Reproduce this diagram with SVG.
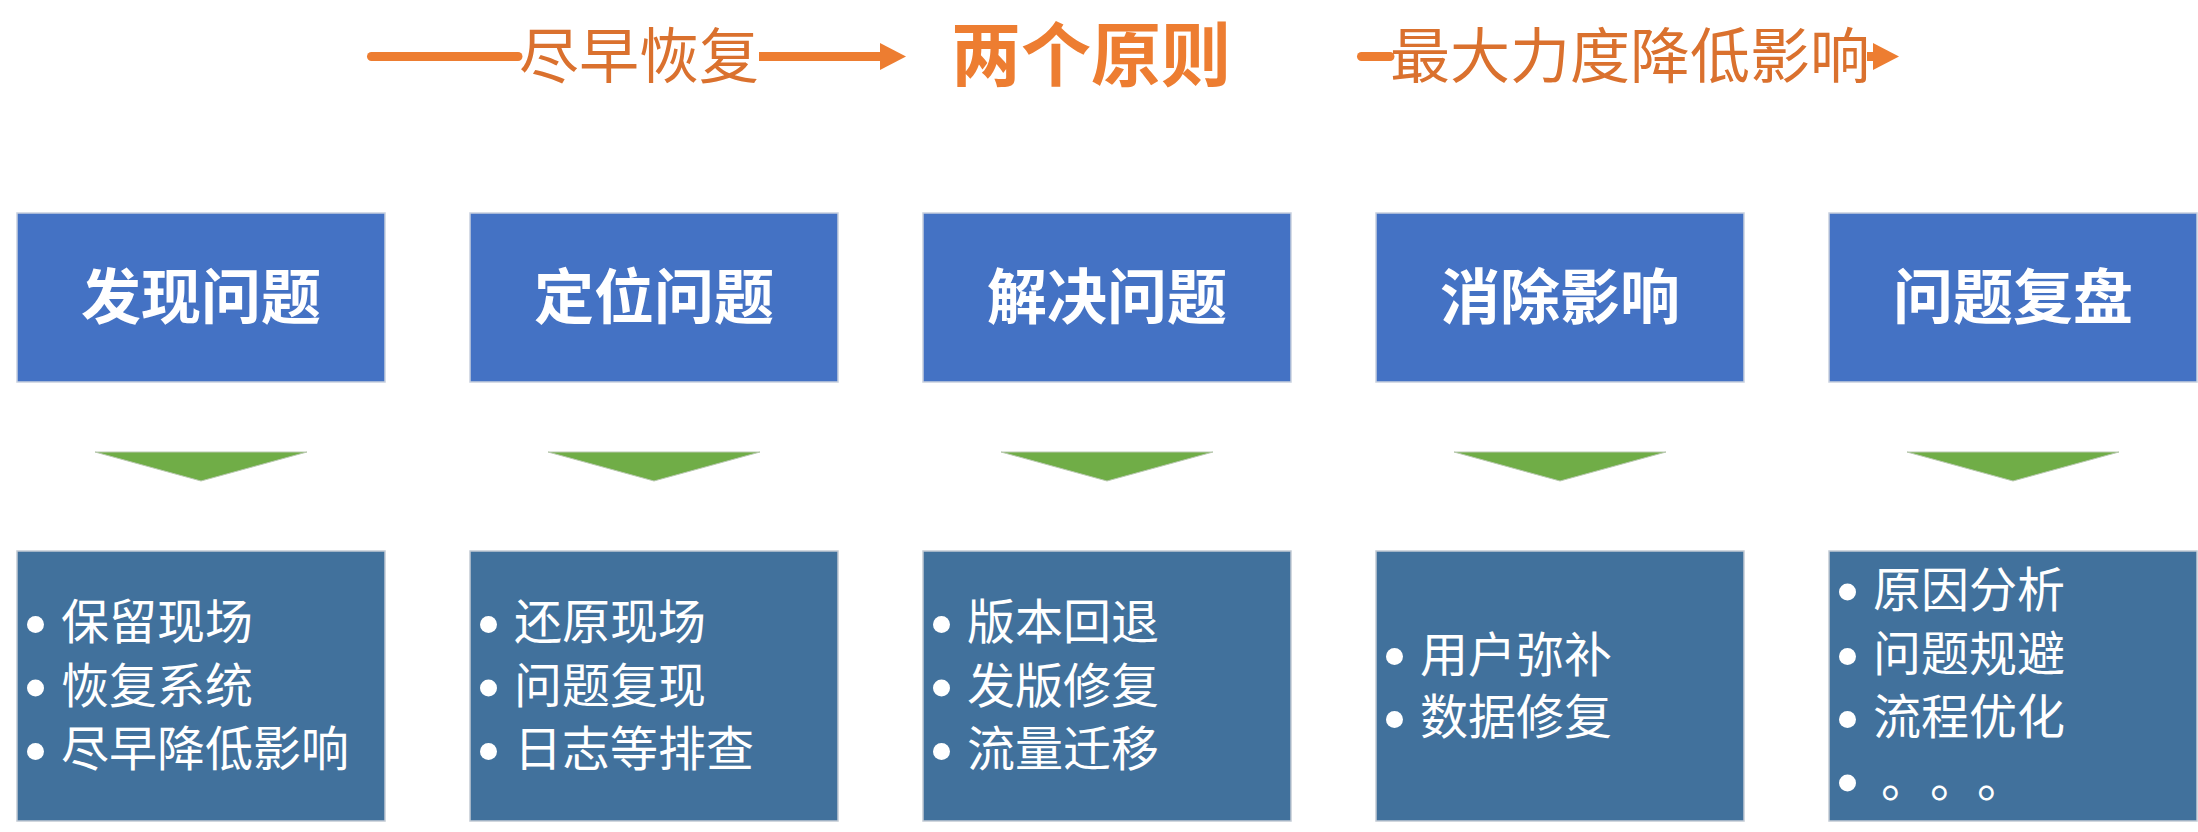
<svg xmlns="http://www.w3.org/2000/svg" width="2198" height="832" viewBox="0 0 2198 832">
<style>
.cjk{font-family:"Noto Sans CJK SC","Noto Sans CJK JP",sans-serif;}
.title{font-size:60px;font-weight:700;fill:#FFFFFF;text-anchor:middle;}
.item{font-size:48px;fill:#FFFFFF;}
.head{font-size:60px;fill:#DA712E;text-anchor:middle;}
.main{font-size:70px;font-weight:700;fill:#ED7D31;text-anchor:middle;}
.topbox{fill:#4472C4;stroke:#C7D0DE;stroke-width:1.5;}
.botbox{fill:#41719C;stroke:#C2CAD4;stroke-width:1.5;}
.tri{fill:#70AD47;stroke:#B9C9B0;stroke-width:1;}
.bul{fill:#FFFFFF;}
.hline{stroke:#ED7D31;stroke-width:9;fill:none;}
</style>
<defs>
<marker id="ah" markerUnits="userSpaceOnUse" markerWidth="27" markerHeight="28" refX="0" refY="13.5" orient="auto">
<path d="M0,0 L26,13.5 L0,27 Z" fill="#ED7D31"/>
</marker>
</defs>
<rect width="2198" height="832" fill="#FFFFFF"/>

<g id="header">
<text class="cjk head" x="639" y="78">尽早恢复</text>
<text class="cjk main" x="1091" y="81">两个原则</text>
<text class="cjk head" x="1630" y="78">最大力度降低影响</text>
</g>

<g id="connectors">
<line class="hline" x1="371.5" y1="56.5" x2="518" y2="56.5" stroke-linecap="round"/>
<line class="hline" x1="759" y1="56.5" x2="880" y2="56.5" marker-end="url(#ah)"/>
<line class="hline" x1="1361.5" y1="56.5" x2="1390" y2="56.5" stroke-linecap="round"/>
<line class="hline" x1="1867" y1="56.5" x2="1873" y2="56.5" marker-end="url(#ah)"/>
<polygon class="tri" points="95,452 307,452 201,481"/>
<polygon class="tri" points="548,452 760,452 654,481"/>
<polygon class="tri" points="1001,452 1213,452 1107,481"/>
<polygon class="tri" points="1454,452 1666,452 1560,481"/>
<polygon class="tri" points="1907,452 2119,452 2013,481"/>
</g>

<g id="node-find">
<rect class="topbox" x="17" y="213" width="368" height="169"/>
<text class="cjk title" x="201" y="319">发现问题</text>
</g>
<g id="node-locate">
<rect class="topbox" x="470" y="213" width="368" height="169"/>
<text class="cjk title" x="654" y="319">定位问题</text>
</g>
<g id="node-solve">
<rect class="topbox" x="923" y="213" width="368" height="169"/>
<text class="cjk title" x="1107" y="319">解决问题</text>
</g>
<g id="node-eliminate">
<rect class="topbox" x="1376" y="213" width="368" height="169"/>
<text class="cjk title" x="1560" y="319">消除影响</text>
</g>
<g id="node-review">
<rect class="topbox" x="1829" y="213" width="368" height="169"/>
<text class="cjk title" x="2013" y="319">问题复盘</text>
</g>

<g id="detail-find">
<rect class="botbox" x="17" y="551" width="368" height="270"/>
<circle class="bul" cx="35.5" cy="624.5" r="8.5"/>
<circle class="bul" cx="35.5" cy="688" r="8.5"/>
<circle class="bul" cx="35.5" cy="751.5" r="8.5"/>
<text class="cjk item" x="61" y="639">保留现场</text>
<text class="cjk item" x="61" y="702.5">恢复系统</text>
<text class="cjk item" x="61" y="766">尽早降低影响</text>
</g>
<g id="detail-locate">
<rect class="botbox" x="470" y="551" width="368" height="270"/>
<circle class="bul" cx="488.5" cy="624.5" r="8.5"/>
<circle class="bul" cx="488.5" cy="688" r="8.5"/>
<circle class="bul" cx="488.5" cy="751.5" r="8.5"/>
<text class="cjk item" x="514" y="639">还原现场</text>
<text class="cjk item" x="514" y="702.5">问题复现</text>
<text class="cjk item" x="514" y="766">日志等排查</text>
</g>
<g id="detail-solve">
<rect class="botbox" x="923" y="551" width="368" height="270"/>
<circle class="bul" cx="941.5" cy="624.5" r="8.5"/>
<circle class="bul" cx="941.5" cy="688" r="8.5"/>
<circle class="bul" cx="941.5" cy="751.5" r="8.5"/>
<text class="cjk item" x="967" y="639">版本回退</text>
<text class="cjk item" x="967" y="702.5">发版修复</text>
<text class="cjk item" x="967" y="766">流量迁移</text>
</g>
<g id="detail-eliminate">
<rect class="botbox" x="1376" y="551" width="368" height="270"/>
<circle class="bul" cx="1394.5" cy="656.5" r="8.5"/>
<circle class="bul" cx="1394.5" cy="719.5" r="8.5"/>
<text class="cjk item" x="1420" y="672">用户弥补</text>
<text class="cjk item" x="1420" y="734">数据修复</text>
</g>
<g id="detail-review">
<rect class="botbox" x="1829" y="551" width="368" height="270"/>
<circle class="bul" cx="1847.5" cy="592" r="8.5"/>
<circle class="bul" cx="1847.5" cy="656.5" r="8.5"/>
<circle class="bul" cx="1847.5" cy="719.5" r="8.5"/>
<circle class="bul" cx="1847.5" cy="783" r="8.5"/>
<text class="cjk item" x="1873" y="607">原因分析</text>
<text class="cjk item" x="1873" y="671">问题规避</text>
<text class="cjk item" x="1873" y="734">流程优化</text>
<text class="cjk item" x="1881 1930 1977" y="797">。。。</text>
</g>
</svg>
